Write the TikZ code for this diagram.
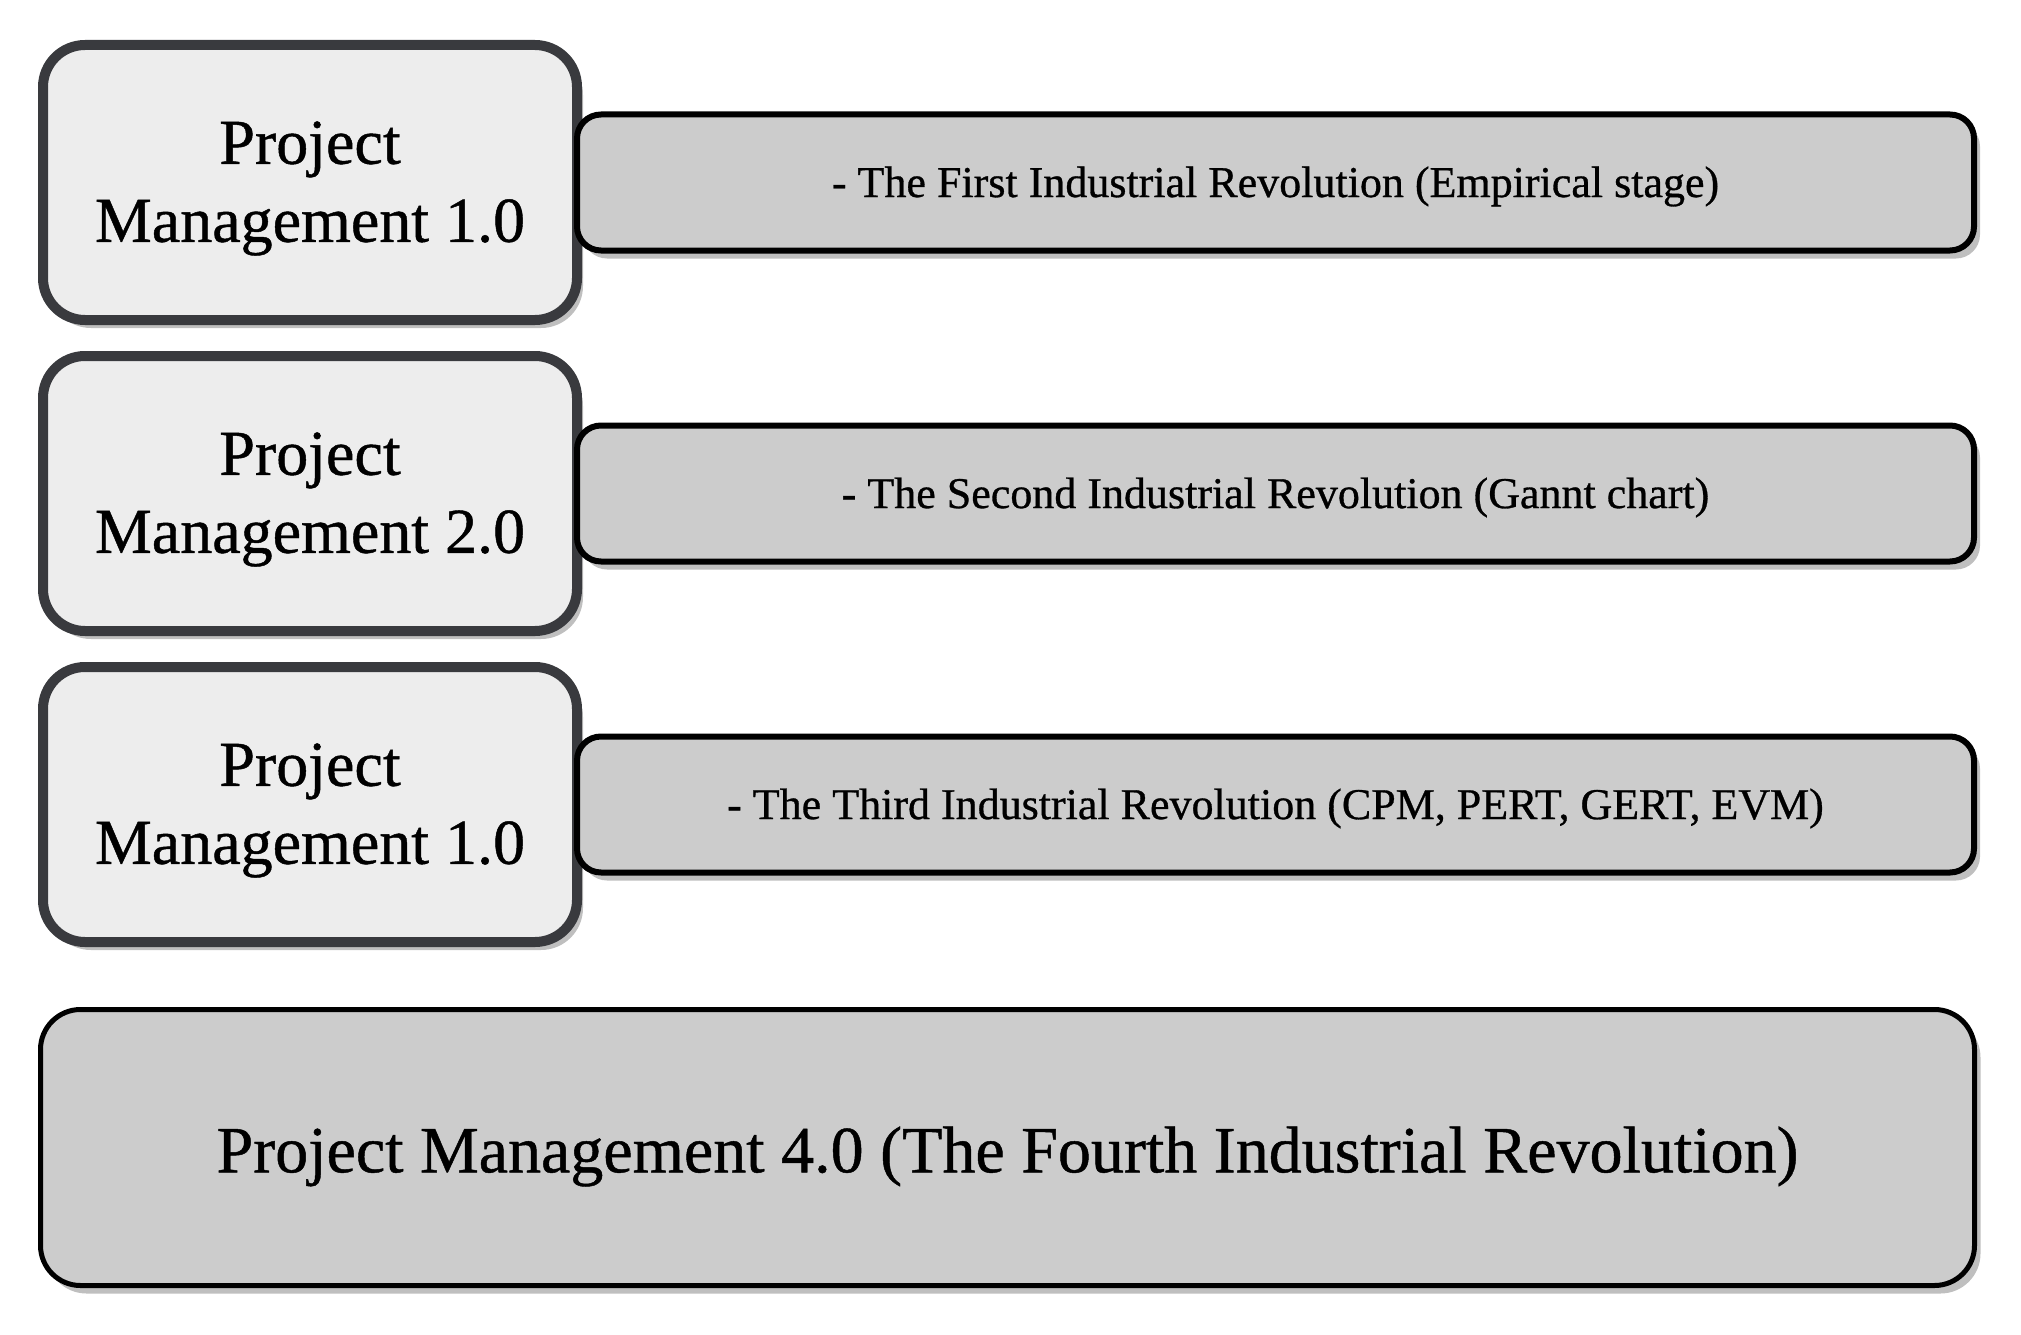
\documentclass[tikz,border=0pt]{standalone}
\usepackage{fontspec}
\setmainfont{Liberation Serif}[FakeBold=0.7]
\usetikzlibrary{shadows}
\definecolor{leftfill}{HTML}{EDEDED}
\definecolor{leftdraw}{HTML}{393A3E}
\definecolor{rightfill}{HTML}{CCCCCC}
\definecolor{shadowgray}{HTML}{BFBFBF}
\tikzset{
  pmshadow/.style={general shadow={shadow xshift=6pt, shadow yshift=-8pt, fill=shadowgray}},
  leftbox/.style={rectangle, rounded corners=42pt, draw=leftdraw, line width=10pt, fill=leftfill,
    minimum width=534pt, minimum height=275pt, inner sep=0pt, pmshadow},
  rightbox/.style={rectangle, rounded corners=24pt, draw=black, line width=6pt, fill=rightfill,
    minimum width=1397pt, minimum height=136pt, inner sep=0pt, pmshadow},
  bottombox/.style={rectangle, rounded corners=40pt, draw=black, line width=5pt, fill=rightfill,
    minimum width=1934pt, minimum height=276pt, inner sep=0pt, pmshadow},
  lefttext/.style={align=center, inner sep=0pt, font=\fontsize{64}{78}\selectfont},
  righttext/.style={inner sep=0pt, font=\fontsize{44}{52}\selectfont},
  bottomtext/.style={inner sep=0pt, font=\fontsize{66}{78}\selectfont}
}
\begin{document}
\begin{tikzpicture}[x=1pt,y=-1pt]
\useasboundingbox (0,0) rectangle (2021,1335);
\node[leftbox] (l1) at (310,182.5) {};
\node[leftbox] (l2) at (310,493.5) {};
\node[leftbox] (l3) at (310,804.5) {};
\node[rightbox] (r1) at (1275.5,182.5) {};
\node[rightbox] (r2) at (1275.5,493.5) {};
\node[rightbox] (r3) at (1275.5,804.5) {};
\node[bottombox] (b) at (1007.5,1147.5) {};
\node[lefttext] (l1t) at ([yshift=-6pt]l1.center) {Project\\Management 1.0};
\node[lefttext] (l2t) at ([yshift=-6pt]l2.center) {Project\\Management 2.0};
\node[lefttext] (l3t) at ([yshift=-6pt]l3.center) {Project\\Management 1.0};
\node[righttext] (r1t) at ([yshift=-4pt]r1.center) {- The First Industrial Revolution (Empirical stage)};
\node[righttext] (r2t) at ([yshift=-4pt]r2.center) {- The Second Industrial Revolution (Gannt chart)};
\node[righttext] (r3t) at ([yshift=-4pt]r3.center) {- The Third Industrial Revolution (CPM, PERT, GERT, EVM)};
\node[bottomtext] (bt) at ([yshift=-9pt]b.center) {Project Management 4.0 (The Fourth Industrial Revolution)};
\end{tikzpicture}
\end{document}
